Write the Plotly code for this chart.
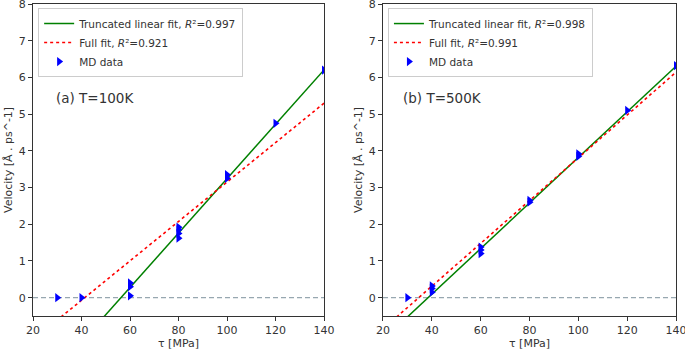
import numpy as np
import plotly.graph_objects as go

# ---- data ----
# Panel (a) T=100K
tau_a = [30, 40, 60, 60, 60, 80, 80, 80, 80, 100, 100, 120, 140]
vel_a = [0.0, 0.0, 0.05, 0.3, 0.4, 1.62, 1.75, 1.85, 1.92, 3.25, 3.35, 4.75, 6.2]
trunc_a = (0.0741, -4.17)   # slope, intercept
full_a = (0.0537, -2.22)
r2_a = ("0.997", "0.921")

# Panel (b) T=500K
tau_b = [30, 40, 40, 40, 60, 60, 60, 80, 80, 100, 100, 120, 140]
vel_b = [0.0, 0.15, 0.25, 0.32, 1.2, 1.3, 1.38, 2.6, 2.65, 3.85, 3.92, 5.1, 6.32]
trunc_b = (0.0621, -2.39)
full_b = (0.0583, -2.02)
r2_b = ("0.998", "0.991")

x_ticks = [20, 40, 60, 80, 100, 120, 140]
y_ticks = [0, 1, 2, 3, 4, 5, 6, 7, 8]
x_fit = np.array([20, 140])

FONT = "DejaVu Sans"
TXT = "#333"
W, H = 685, 350
L, R, T, B = 33, 9, 4, 34
fig = go.Figure()

panels = [
    ("x", "y", "legend", tau_a, vel_a, trunc_a, full_a, r2_a),
    ("x2", "y2", "legend2", tau_b, vel_b, trunc_b, full_b, r2_b),
]
for xa, ya, lg, tau, vel, tr, fu, r2 in panels:
    fig.add_trace(go.Scatter(x=x_fit, y=[0, 0], mode="lines", xaxis=xa, yaxis=ya,
                             line=dict(color="#97a7b0", width=1.3, dash="5px,3px"),
                             showlegend=False, hoverinfo="skip"))
    fig.add_trace(go.Scatter(x=x_fit, y=tr[0] * x_fit + tr[1], mode="lines", xaxis=xa, yaxis=ya,
                             line=dict(color="green", width=1.5), legend=lg,
                             name=f"Truncated linear fit, <i>R</i>²={r2[0]}"))
    fig.add_trace(go.Scatter(x=x_fit, y=fu[0] * x_fit + fu[1], mode="lines", xaxis=xa, yaxis=ya,
                             line=dict(color="red", width=1.6, dash="dot"), legend=lg,
                             name=f"Full fit, <i>R</i>²={r2[1]}"))
    fig.add_trace(go.Scatter(x=tau, y=vel, mode="markers", xaxis=xa, yaxis=ya,
                             marker=dict(symbol="triangle-right", color="blue", size=8),
                             legend=lg, name="MD data", cliponaxis=True))

axis_common = dict(showline=True, mirror=True, linecolor="#333", linewidth=1,
                   ticks="outside", ticklen=4, tickcolor="#333", showgrid=False,
                   zeroline=False, automargin=False, ticklabeloverflow="allow",
                   tickfont=dict(family=FONT, size=11, color=TXT))

leg_common = dict(xanchor="left", yanchor="top", bordercolor="#ccc", borderwidth=1,
                  bgcolor="rgba(255,255,255,0.8)", font=dict(family=FONT, size=10.5, color=TXT),
                  tracegroupgap=0, itemwidth=30)


def px_x(p):
    return (p - L) / (W - L - R)


def px_y(p):
    return 1 - (p - T) / (H - T - B)


title_font = dict(family=FONT, size=11, color=TXT)
fig.update_layout(
    width=W, height=H,
    margin=dict(l=L, r=R, t=T, b=B),
    plot_bgcolor="white", paper_bgcolor="white",
    font=dict(family=FONT, size=11, color=TXT),
    xaxis=dict(domain=[0, 0.4526], range=[20, 140], tickvals=x_ticks, **axis_common),
    yaxis=dict(range=[-0.5, 8.001], tickvals=y_ticks, **axis_common),
    xaxis2=dict(domain=[0.5443, 1], range=[20, 140], tickvals=x_ticks, anchor="y2", **axis_common),
    yaxis2=dict(range=[-0.5, 8.001], tickvals=y_ticks, anchor="x2", **axis_common),
    legend=dict(x=0.008, y=0.987, **leg_common),
    legend2=dict(x=0.552, y=0.987, **leg_common),
    annotations=[
        dict(text="(a) T=100K", x=28.5, y=5.45, xref="x", yref="y", showarrow=False,
             xanchor="left", font=dict(family=FONT, size=13.5, color=TXT)),
        dict(text="(b) T=500K", x=27.5, y=5.45, xref="x2", yref="y2", showarrow=False,
             xanchor="left", font=dict(family=FONT, size=13.5, color=TXT)),
        dict(text="τ [MPa]", x=px_x(178), y=px_y(343), xref="paper", yref="paper",
             xanchor="center", yanchor="middle", showarrow=False, font=title_font),
        dict(text="τ [MPa]", x=px_x(529), y=px_y(343), xref="paper", yref="paper",
             xanchor="center", yanchor="middle", showarrow=False, font=title_font),
        dict(text="Velocity [Å . ps^-1]", x=px_x(8), y=px_y(160), xref="paper", yref="paper",
             xanchor="center", yanchor="middle", showarrow=False, textangle=-90, font=title_font),
        dict(text="Velocity [Å . ps^-1]", x=px_x(358), y=px_y(160), xref="paper", yref="paper",
             xanchor="center", yanchor="middle", showarrow=False, textangle=-90, font=title_font),
    ],
)

fig.write_html("out.html", config={"displayModeBar": False},
               post_script="document.body.style.margin='0';")
